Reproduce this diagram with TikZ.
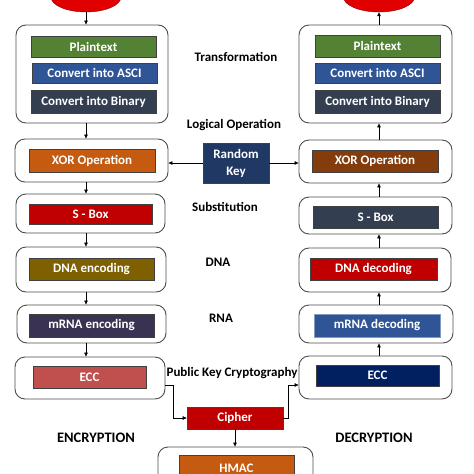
\documentclass[tikz,border=0pt]{standalone}
\usepackage{fontspec}
\setmainfont{Carlito}
\usetikzlibrary{arrows.meta,shapes.geometric,calc}
\definecolor{cgreen}{HTML}{548235}
\definecolor{cblue}{HTML}{2F5597}
\definecolor{cslate}{HTML}{333F50}
\definecolor{corange}{HTML}{C55A11}
\definecolor{cred}{HTML}{C00000}
\definecolor{colive}{HTML}{7F6000}
\definecolor{cpurple}{HTML}{3A3252}
\definecolor{crose}{HTML}{C0504D}
\definecolor{cbrown}{HTML}{843C0C}
\definecolor{cnavy}{HTML}{002060}
\definecolor{cnavyb}{HTML}{1F3864}
\definecolor{cell}{HTML}{E00000}
\begin{document}
\begin{tikzpicture}[x=1pt,y=-1pt,
  outerbox/.style={draw=black!70,line width=0.9pt,rounded corners=10pt,minimum width=#1,inner sep=0pt},
  ib/.style={draw=black!75,line width=0.6pt,fill=#1,text=white,font=\fontsize{13}{15}\selectfont\bfseries,inner sep=0pt},
  lbl/.style={font=\fontsize{13}{15}\selectfont\bfseries,text=black,inner sep=0pt},
  big/.style={font=\fontsize{14.5}{16}\selectfont\bfseries,text=black,inner sep=0pt},
  arr/.style={-{Triangle[length=4pt,width=3.5pt]},line width=0.6pt,black}]
\useasboundingbox (0,0) rectangle (474,474);
% ellipses
\node[ellipse,draw=cred!70!black,fill=cell,minimum width=70pt,minimum height=30pt,inner sep=0pt] (ell1) at (86,-3) {};
\node[ellipse,draw=cred!70!black,fill=cell,minimum width=71pt,minimum height=30pt,inner sep=0pt] (ell2) at (379,-3) {};
% left outer boxes
\node[outerbox=152pt,minimum height=98pt] (lb1) at (92,74) {};
\node[outerbox=153pt,minimum height=43pt] (lb2) at (91.5,160.5) {};
\node[outerbox=149pt,minimum height=39pt] (lb3) at (90.5,213.5) {};
\node[outerbox=150pt,minimum height=45pt] (lb4) at (91,269.5) {};
\node[outerbox=149pt,minimum height=38pt] (lb5) at (91.5,324) {};
\node[outerbox=150pt,minimum height=42pt] (lb6) at (90,378) {};
% left inner
\node[ib=cgreen,minimum width=125pt,minimum height=21pt] (lp) at (93.5,46.5) {Plaintext};
\node[ib=cblue,minimum width=125pt,minimum height=20pt] (la) at (94.5,73) {Convert into ASCI};
\node[ib=cslate,minimum width=125pt,minimum height=23pt] (lbin) at (93.5,101.5) {Convert into Binary};
\node[ib=corange,minimum width=126pt,minimum height=23pt] (lx) at (92,160.5) {XOR Operation};
\node[ib=cred,minimum width=123pt,minimum height=20pt] (ls) at (90.5,214) {S - Box};
\node[ib=colive,minimum width=125pt,minimum height=22pt] (ld) at (91.5,269) {DNA encoding};
\node[ib=cpurple,minimum width=125pt,minimum height=23pt] (lm) at (91.5,325.5) {mRNA encoding};
\node[ib=crose,minimum width=113pt,minimum height=22pt] (le) at (89.5,377) {ECC};
% right outer boxes
\node[outerbox=153pt,minimum height=98pt] (rb1) at (375.5,74) {};
\node[outerbox=153pt,minimum height=43pt] (rb2) at (375.5,161.5) {};
\node[outerbox=153pt,minimum height=37pt] (rb3) at (375.5,215.5) {};
\node[outerbox=152pt,minimum height=44pt] (rb4) at (375,270) {};
\node[outerbox=154pt,minimum height=38pt] (rb5) at (376,324) {};
\node[outerbox=153pt,minimum height=43pt] (rb6) at (375.5,377.5) {};
% right inner
\node[ib=cgreen,minimum width=125pt,minimum height=22pt] (rp) at (377.5,46) {Plaintext};
\node[ib=cblue,minimum width=125pt,minimum height=20pt] (ra) at (377.5,73) {Convert into ASCI};
\node[ib=cslate,minimum width=125pt,minimum height=23pt] (rbin) at (377.5,101.5) {Convert into Binary};
\node[ib=cbrown,minimum width=126pt,minimum height=22pt] (rx) at (375,161) {XOR Operation};
\node[ib=cslate,minimum width=125pt,minimum height=22pt] (rs) at (375.5,217) {S - Box};
\node[ib=cred,minimum width=127pt,minimum height=22pt] (rd) at (373.5,269) {DNA decoding};
\node[ib=cblue,draw=cblue!60!white,minimum width=126pt,minimum height=23pt] (rm) at (377,325.5) {mRNA decoding};
\node[ib=cnavy,minimum width=123pt,minimum height=21pt] (re) at (377.5,375.5) {ECC};
% center
\node[ib=cnavyb,minimum width=66pt,minimum height=40pt,align=center,font=\fontsize{13}{17}\selectfont\bfseries] (rk) at (236,163) {Random\\Key};
\node[ib=cred,minimum width=96pt,minimum height=22pt] (ci) at (235,418) {Cipher};
\node[outerbox=155pt,minimum height=50pt] (hb) at (235.5,472) {};
\node[ib=corange,minimum width=115pt,minimum height=26pt] (hm) at (236.5,468) {HMAC};
% labels
\node[lbl] (t1) at (236,57) {Transformation};
\node[lbl] (t2) at (234,125) {Logical Operation};
\node[lbl] (t3) at (225,207) {Substitution};
\node[lbl] (t4) at (218,262) {DNA};
\node[lbl] (t5) at (221,318) {RNA};
\node[lbl] (t6) at (232,373) {Public Key Cryptography};
\node[big] (t7) at (96,438) {ENCRYPTION};
\node[big] (t8) at (374,438) {DECRYPTION};
% left arrows
\draw[arr] (ell1.south) -- (ell1.south |- lb1.north);
\draw[arr] (lb1.south -| ell1.south) -- (ell1.south |- lb2.north);
\draw[arr] (lb2.south -| ell1.south) -- (ell1.south |- lb3.north);
\draw[arr] (lb3.south -| ell1.south) -- (ell1.south |- lb4.north);
\draw[arr] (lb4.south -| ell1.south) -- (ell1.south |- lb5.north);
\draw[arr] (lb5.south -| ell1.south) -- (ell1.south |- lb6.north);
% right arrows
\draw[arr] (ell2.south |- rb1.north) -- (ell2.south);
\draw[arr] (ell2.south |- rb2.north) -- (ell2.south |- rb1.south);
\draw[arr] (ell2.south |- rb3.north) -- (ell2.south |- rb2.south);
\draw[arr] (ell2.south |- rb4.north) -- (ell2.south |- rb3.south);
\draw[arr] (ell2.south |- rb5.north) -- (ell2.south |- rb4.south);
\draw[arr] (ell2.south |- rb6.north) -- (ell2.south |- rb5.south);
% key arrows
\draw[arr] (rk.west) -- (rk.west -| lb2.east);
\draw[arr] (rk.east) -- (rk.east -| rb2.west);
% cipher connections
\draw[arr] ([yshift=-7pt]lb6.east) -- ++(8,0) |- (ci.west);
\draw[arr] (ci.east) -- ++(5,0) |- ([yshift=-7.5pt]rb6.west);
\draw[arr] (ci.south) -- (ci.south |- hb.north);
\end{tikzpicture}
\end{document}
